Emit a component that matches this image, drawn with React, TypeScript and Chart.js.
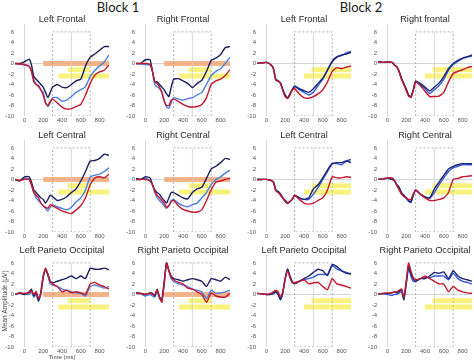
import React, { useEffect, useRef } from "react";
import { Chart, registerables } from "chart.js";

Chart.register(...registerables);

// ---------- data ----------
const times = [-100, -50, 0, 50, 75, 100, 125, 150, 175, 200, 225, 250, 275, 300, 350, 400, 450, 500, 550, 600, 650, 700, 750, 800, 850, 900];
const xTickValues = [0, 200, 400, 600, 800];
const yTickValues = [-10, -8, -6, -4, -2, 0, 2, 4, 6];

const titles = [
  "Left Frontal", "Right Frontal", "Left Frontal", "Right frontal",
  "Left Central", "Right Central", "Left Central", "Right Central",
  "Left Parieto Occipital", "Right Parieto Occipital", "Left Parieto Occipital", "Right Parieto Occipital",
];
const blockLabels = ["Block 1", "Block 2"];
const yAxisLabel = "Mean Amplitude (\u03bcV)";
const xAxisLabel = "Time (ms)";

// analysis window (dashed box)
const winStart = 300;
const winMid = 500;
const winEnd = 700;
const winTop = 6;
const winBottom = -10;

// significance bars per block
const block1BarStart = [200, 460, 360];
const block1BarEnd = [900, 700, 900];
const block1BarLevel = [0, -1.2, -2.4];
const block1BarKind = ["orange", "yellow", "yellow"];
const block2BarStart = [480, 400];
const block2BarEnd = [900, 900];
const block2BarLevel = [-1.2, -2.4];
const block2BarKind = ["yellow", "yellow"];

// Left Frontal, Block 1
const p1Navy = [0, 0, 0.3, 0.8, -0.3, -2.5, -3, -3.5, -4, -4.5, -5.5, -6.5, -5.5, -4.5, -4, -4.5, -4.6, -4, -3.3, -3, -0.5, 1.2, 1.8, 2.5, 3.2, 3.2];
const p1Blue = [0, -0.1, -0.3, -0.6, -1.5, -3, -4, -4.5, -5, -5.5, -7.5, -8.2, -7.5, -6.5, -6.5, -7.2, -7, -6.3, -5.5, -5, -4.4, -2.5, -1.3, -0.5, 0.3, 1.6];
const p1Red = [0, -0.1, -0.2, -0.5, -1.5, -3.5, -4, -4.2, -5, -6, -7.5, -8, -7.2, -6.8, -7.5, -8.3, -8.7, -8.6, -8.2, -7.8, -6, -3.8, -2.2, -1.6, -1.3, -0.3];
// Right Frontal, Block 1
const p2Navy = [0, 0, 0.7, 0.7, -1.5, -3.5, -3.5, -4, -4.5, -5, -5.8, -6.3, -4.5, -3, -2.9, -3.3, -3.8, -4.6, -3.8, -3.2, -1.5, 0.6, 1, 1.7, 3, 3.2];
const p2Blue = [0, -0.1, -0.2, -0.3, -1.5, -4, -4.5, -4.8, -5.5, -7, -8.3, -8.5, -7.5, -6.5, -6.8, -7, -6.7, -6.5, -6, -5.5, -4, -2.3, -1.5, -1, 0, 1.2];
const p2Red = [0, 0, 0, -0.2, -1.5, -3.5, -3.8, -4.5, -5.5, -7.2, -8, -8, -7, -6.8, -7.2, -7.8, -8.2, -8.3, -8.2, -7.8, -6.5, -4, -3.3, -3, -2.3, -1.2];
// Left Frontal, Block 2
const p3Navy = [0, 0.1, 0.2, -0.3, -1, -3, -3.3, -3.7, -5, -6, -6.5, -5.8, -5, -4.3, -4.8, -5.2, -5.5, -4.8, -3.8, -2.8, -1.3, 0.3, 1.2, 1.6, 1.8, 2.1];
const p3Blue = [0, 0.1, 0.2, -0.3, -1, -3.2, -3.4, -3.8, -5, -6.2, -6.6, -6, -5, -4.4, -5, -5.5, -6, -5.5, -4.2, -3, -1.2, 0.5, 1.3, 1.5, 2, 2.3];
const p3Red = [0, 0.1, 0.2, -0.3, -1, -3.2, -3.3, -3.8, -5.2, -6.3, -6.7, -6, -5, -4.8, -5.8, -6.5, -6.6, -6.3, -5.8, -5, -3.5, -1.5, -0.8, -1, -0.7, -0.5];
// Right frontal, Block 2
const p4Navy = [0.3, 0.2, 0.3, 0.2, -0.3, -0.6, -1.5, -2.8, -3.8, -4.8, -6, -6.3, -5, -3.3, -3.8, -4.5, -5.2, -4.5, -3.7, -2.5, -1, 0, 0.6, 1, 1.3, 1.6];
const p4Blue = [0.3, 0.2, 0.3, 0.2, -0.3, -0.7, -1.6, -3, -4, -5, -6.1, -6.4, -5.2, -3.5, -4, -4.8, -5.7, -5, -4.2, -3, -1.3, -0.2, 0.4, 0.9, 1.2, 1.4];
const p4Red = [0.3, 0.2, 0.3, 0.2, -0.3, -0.7, -1.6, -3, -4, -5.2, -6.2, -6.5, -5.2, -3.5, -4.2, -5.3, -6.3, -6.3, -6.2, -5.5, -3.5, -1.9, -1.5, -1.2, -0.8, -0.6];
// Left Central, Block 1
const p5Navy = [0, -0.3, 0.5, 0.5, -0.5, -2, -2.5, -3, -3.5, -3.8, -4.5, -3.8, -3, -3.3, -4, -3.8, -3.3, -2.5, -1.8, -0.3, 1.5, 3.5, 3.6, 4, 4.8, 4.6];
const p5Blue = [0, -0.2, 0.2, 0.1, -1, -2.5, -3.5, -4, -4.5, -5, -5.5, -6, -5.3, -4.8, -5.2, -5.5, -5.8, -5.3, -4.3, -3.5, -2, 0.5, 0.8, 1, 1.5, 2.2];
const p5Red = [0, -0.2, 0, 0, -1, -2.5, -3, -3.5, -4.5, -5, -5.3, -5.5, -4.8, -5, -5.5, -6, -6.3, -6.5, -5.8, -5, -3.5, -1, 0.3, 0.5, 0.3, 1];
// Right Central, Block 1
const p6Navy = [0.2, 0, 0.5, 0.3, -1, -2, -2.5, -2.8, -3.5, -4, -4.5, -3.5, -2.5, -2.5, -3, -3.5, -3.7, -2.5, -1.8, -1.5, 0.2, 2, 2.5, 3.2, 4, 3.8];
const p6Blue = [0, 0, 0.2, -0.2, -1, -2.5, -3.5, -4, -4.5, -5, -5.5, -5, -4, -3.8, -4.5, -5, -5.2, -4.8, -4.5, -3.5, -2.5, -1, 0, 0.5, 1.2, 1.8];
const p6Red = [0, 0, 0, -0.3, -1, -2.3, -3, -3.5, -4, -4.5, -5.3, -5, -4.2, -4, -5, -5.7, -6, -6.2, -6.2, -5.8, -4, -2, -0.5, -0.3, 0, 0.2];
// Left Central, Block 2
const p7Navy = [0, 0, 0, -0.2, -0.5, -2, -2.3, -2.8, -3.5, -4, -4.5, -4.2, -3.8, -3, -3.5, -3.8, -3.5, -1.8, -1, 0.3, 1.8, 3, 3.2, 3.2, 3.5, 3.2];
const p7Blue = [0, 0, 0, -0.2, -0.5, -2, -2.3, -2.8, -3.5, -4, -4.5, -4.2, -3.8, -3, -3.5, -3.8, -3.8, -2.8, -1.5, 0, 1.5, 3, 3, 2.8, 3.5, 3.8];
const p7Red = [0, 0, 0, -0.2, -0.6, -2.2, -2.5, -3, -3.6, -4.2, -4.6, -4.2, -3.7, -3, -3.8, -4.5, -4.7, -4.5, -4, -3.5, -2, 0.5, 0.3, 0.3, 0.5, 0.4];
// Right Central, Block 2
const p8Navy = [0, 0.1, 0.2, 0, -0.3, -1, -1.5, -2.5, -3, -3.5, -4, -4.3, -3, -2, -2.8, -3.3, -3.5, -1.8, -0.5, 0.8, 2, 2.5, 2.8, 3, 3, 3];
const p8Blue = [0, 0.1, 0.2, 0, -0.3, -1, -1.6, -2.6, -3.2, -3.6, -4.2, -4.4, -3.1, -2, -2.8, -3.3, -3.6, -2.5, -1, 0.3, 1.5, 2.2, 2.5, 2.8, 2.8, 2.8];
const p8Red = [0, 0.1, 0.3, 0.3, -0.2, -1.2, -2, -2.8, -3.2, -3.5, -3.8, -3.8, -2.8, -2, -2.8, -3.5, -4, -4, -3.8, -3.5, -2.5, 0, 0.2, 0.5, 0.6, 0.7];
// Left Parieto Occipital, Block 1
const p9Navy = [0, 0.3, 0, 0.5, 1, -0.3, 0.5, -1.2, 0.5, 3.5, 4.8, 3.8, 2.5, 2.2, 2.5, 2.8, 3.1, 3.5, 3, 3.5, 3, 5, 4.8, 4.8, 5, 4.7];
const p9Blue = [0, 0.2, 0, 0, 0.5, -0.5, 0, -1.3, 0, 3, 4.8, 3.5, 2, 1.8, 1.5, 1, 0.8, 0.5, 0.3, 0.2, -0.3, 1.5, 1.8, 1.5, 1.2, 1.5];
const p9Red = [0, 0.3, 0.2, 0.3, 0.7, 0, 0.5, -0.8, 0.2, 3.5, 5, 3.8, 2.5, 2, 1.5, 0.5, 0.8, 0.3, 0.5, 0.3, 0, 2, 2.3, 1.8, 1.5, 1];
// Right Parieto Occipital, Block 1
const p10Navy = [0.3, 0.2, 0, 0.3, 0.2, -0.3, 1, -0.5, -1, 2.5, 6, 4.5, 3.5, 3, 2.8, 2.5, 2.8, 3, 2.8, 2.5, 1.5, 3, 2.8, 2.5, 3.3, 2.8];
const p10Blue = [0.2, 0.1, -0.3, 0, -0.3, -0.5, 0.5, -0.8, -1.3, 2, 6, 4.5, 3, 2.5, 2, 1.8, 1.5, 1, 0.8, 0.5, -0.8, 0.8, 0.2, 0.3, 0.5, 0.8];
const p10Red = [0.3, 0.2, 0, 0.3, 0, 0, 0.8, -0.5, -1.5, 2, 6, 4.5, 3.2, 2.8, 2.3, 2, 1.2, 1, 0.5, 0, -1.5, 0.3, -0.3, -0.5, -0.5, 0.2];
// Left Parieto Occipital, Block 2
const p11Navy = [0.2, 0.1, 0, 0, 0.2, 0.5, 0, -1, 0.5, 3, 4.8, 3.5, 2.5, 2, 2.5, 3, 3.5, 4.2, 4.8, 4.5, 3.6, 5.7, 5.3, 4.5, 4, 4];
const p11Blue = [0.2, 0.1, 0, 0, 0.2, 0.5, 0, -1, 0.3, 3, 4.8, 3.5, 2.3, 2.2, 2.5, 2.8, 3, 3.3, 3.8, 3.8, 3.8, 5.5, 4.8, 4.5, 4.2, 3.8];
const p11Red = [0.2, 0.1, 0, 0.2, 0.5, 0.8, 0.5, -0.5, 0.5, 3, 4.5, 3.2, 2.2, 2.2, 2.5, 2.8, 2, 2.2, 2.3, 1.5, 0.9, 3, 2, 1.8, 1.5, 1.2];
// Right Parieto Occipital, Block 2
const p12Navy = [0, 0.2, 0.2, 0.3, 0.5, 0.3, 0.5, 1, -1, 2, 5.5, 4, 3, 2.5, 3, 3, 3.5, 4.2, 4, 4.3, 3, 4.5, 3.5, 3, 2.8, 2.5];
const p12Blue = [0, 0.1, 0, -0.2, 0, 0, 0.3, 0.5, -0.8, 2, 5, 3.5, 2.5, 2.5, 3, 3.2, 3.2, 3.5, 3.5, 3.5, 2.8, 4, 3, 2.5, 2.3, 2];
const p12Red = [0, 0.2, 0.3, 0.3, 0.5, 0.5, 0.8, 1, -0.5, 2.5, 6, 4.5, 3.2, 2.8, 3, 3.5, 3, 2.5, 2, 2, 0.5, 1.5, 0.8, 0.5, 0.3, 0.2];

const navySeries = [p1Navy, p2Navy, p3Navy, p4Navy, p5Navy, p6Navy, p7Navy, p8Navy, p9Navy, p10Navy, p11Navy, p12Navy];
const blueSeries = [p1Blue, p2Blue, p3Blue, p4Blue, p5Blue, p6Blue, p7Blue, p8Blue, p9Blue, p10Blue, p11Blue, p12Blue];
const redSeries = [p1Red, p2Red, p3Red, p4Red, p5Red, p6Red, p7Red, p8Red, p9Red, p10Red, p11Red, p12Red];

// ---------- layout / style ----------
const FONT = "'Liberation Sans', Arial, sans-serif";
const colLeft = [0, 116, 237, 358];
const colAxisW = [15, 20, 20, 20];
const plotW = 94;
const rowTop = [9, 125, 240];
const canvasH = 121;
const COLORS = {
  b1: { navy: "#1c1e5e", blue: "#4d7ee0", red: "#c6182d" },
  b2: { navy: "#1b2472", blue: "#3558d8", red: "#c6182d" },
};
const BAR_COLORS: Record<string, string> = {
  orange: "rgba(243,168,118,0.85)",
  yellow: "rgba(248,242,112,0.9)",
};

const zeroGrid = (ctx: any) => (ctx.tick && ctx.tick.value === 0 ? "#d6d6d6" : "rgba(0,0,0,0)");

function Panel({ idx }: { idx: number }) {
  const ref = useRef<HTMLCanvasElement | null>(null);
  const row = Math.floor(idx / 4);
  const col = idx % 4;
  const block = col < 2 ? 1 : 2;
  const axisW = colAxisW[col];
  const width = axisW + plotW + 2;

  useEffect(() => {
    if (!ref.current) return;
    const pal = block === 1 ? COLORS.b1 : COLORS.b2;
    const toPts = (vals: number[]) => times.map((t, i) => ({ x: t, y: vals[i] }));
    const line = (vals: number[], color: string) => ({
      data: toPts(vals),
      borderColor: color,
      borderWidth: 1.4,
      pointRadius: 0,
      tension: 0.15,
      fill: false,
      order: 0,
    });
    const starts = block === 1 ? block1BarStart : block2BarStart;
    const ends = block === 1 ? block1BarEnd : block2BarEnd;
    const levels = block === 1 ? block1BarLevel : block2BarLevel;
    const kinds = block === 1 ? block1BarKind : block2BarKind;
    const bars = starts.map((s, i) => ({
      data: [
        { x: s, y: levels[i] },
        { x: ends[i], y: levels[i] },
      ],
      borderColor: BAR_COLORS[kinds[i]],
      borderWidth: 5,
      borderCapStyle: "butt",
      pointRadius: 0,
      order: 2,
    }));
    const box = {
      data: [
        { x: winStart, y: winBottom },
        { x: winStart, y: winTop },
        { x: winEnd, y: winTop },
        { x: winEnd, y: winBottom },
        { x: winStart, y: winBottom },
      ],
      borderColor: "#a0a0a0",
      borderWidth: 0.8,
      borderDash: [2, 2],
      pointRadius: 0,
      order: 1,
    };
    const mid = {
      data: [
        { x: winMid, y: winBottom },
        { x: winMid, y: winTop },
      ],
      borderColor: "#cfcfcf",
      borderWidth: 0.8,
      pointRadius: 0,
      order: 1,
    };
    const isLabelled = idx === 8;
    const chart = new Chart(ref.current, {
      type: "line",
      data: {
        datasets: [
          line(redSeries[idx], pal.red),
          line(navySeries[idx], pal.navy),
          line(blueSeries[idx], pal.blue),
          box,
          mid,
          ...bars,
        ] as any,
      },
      options: {
        animation: false,
        responsive: false,
        layout: { padding: { left: 0, right: 2, top: 0, bottom: 0 } },
        plugins: {
          legend: { display: false },
          tooltip: { enabled: false },
          title: {
            display: true,
            fullSize: false,
            text: titles[idx],
            color: "#2a2a2a",
            font: { family: FONT, size: 9.2, weight: "normal", lineHeight: "10px" } as any,
            padding: { top: 5, bottom: 0 },
          },
        },
        scales: {
          x: {
            type: "linear",
            min: -100,
            max: 900,
            afterBuildTicks: (s: any) => {
              s.ticks = xTickValues.map((v) => ({ value: v }));
            },
            afterFit: (s: any) => {
              s.height = 14;
            },
            grid: { drawTicks: false, color: zeroGrid, lineWidth: 1 },
            border: { display: false },
            ticks: { padding: 1, color: "#555", font: { family: FONT, size: 6 }, maxRotation: 0, autoSkip: false },
            title: {
              display: isLabelled,
              text: xAxisLabel,
              color: "#444",
              font: { family: FONT, size: 6 },
              padding: { top: 0, bottom: 0 },
            },
          },
          y: {
            type: "linear",
            min: -10,
            max: 7.5,
            afterBuildTicks: (s: any) => {
              s.ticks = yTickValues.map((v) => ({ value: v }));
            },
            afterFit: (s: any) => {
              s.width = axisW;
            },
            grid: { drawTicks: false, color: zeroGrid, lineWidth: 1 },
            border: { display: false },
            ticks: { padding: 1, color: "#555", font: { family: FONT, size: 6 }, autoSkip: false },
            title: {
              display: isLabelled,
              text: yAxisLabel,
              color: "#444",
              font: { family: FONT, size: 6.5 },
              padding: { top: 1, bottom: 0 },
            },
          },
        },
      } as any,
    });
    return () => chart.destroy();
  }, [idx]);

  return (
    <canvas
      ref={ref}
      width={width}
      height={canvasH}
      style={{ position: "absolute", left: colLeft[col], top: rowTop[row], width, height: canvasH }}
    />
  );
}

export default function App() {
  return (
    <div
      style={{
        position: "fixed",
        left: 0,
        top: 0,
        width: 474,
        height: 361,
        background: "#fff",
        overflow: "hidden",
      }}
    >
      {blockLabels.map((b, i) => (
        <div
          key={b}
          style={{
            position: "absolute",
            left: i === 0 ? 118 : 361,
            top: -1,
            transform: "translateX(-50%)",
            fontFamily: "Lato, 'Open Sans', sans-serif",
            fontSize: 13,
            color: "#1a1a1a",
            whiteSpace: "nowrap",
          }}
        >
          {b}
        </div>
      ))}
      {titles.map((_, i) => (
        <Panel key={i} idx={i} />
      ))}
    </div>
  );
}
